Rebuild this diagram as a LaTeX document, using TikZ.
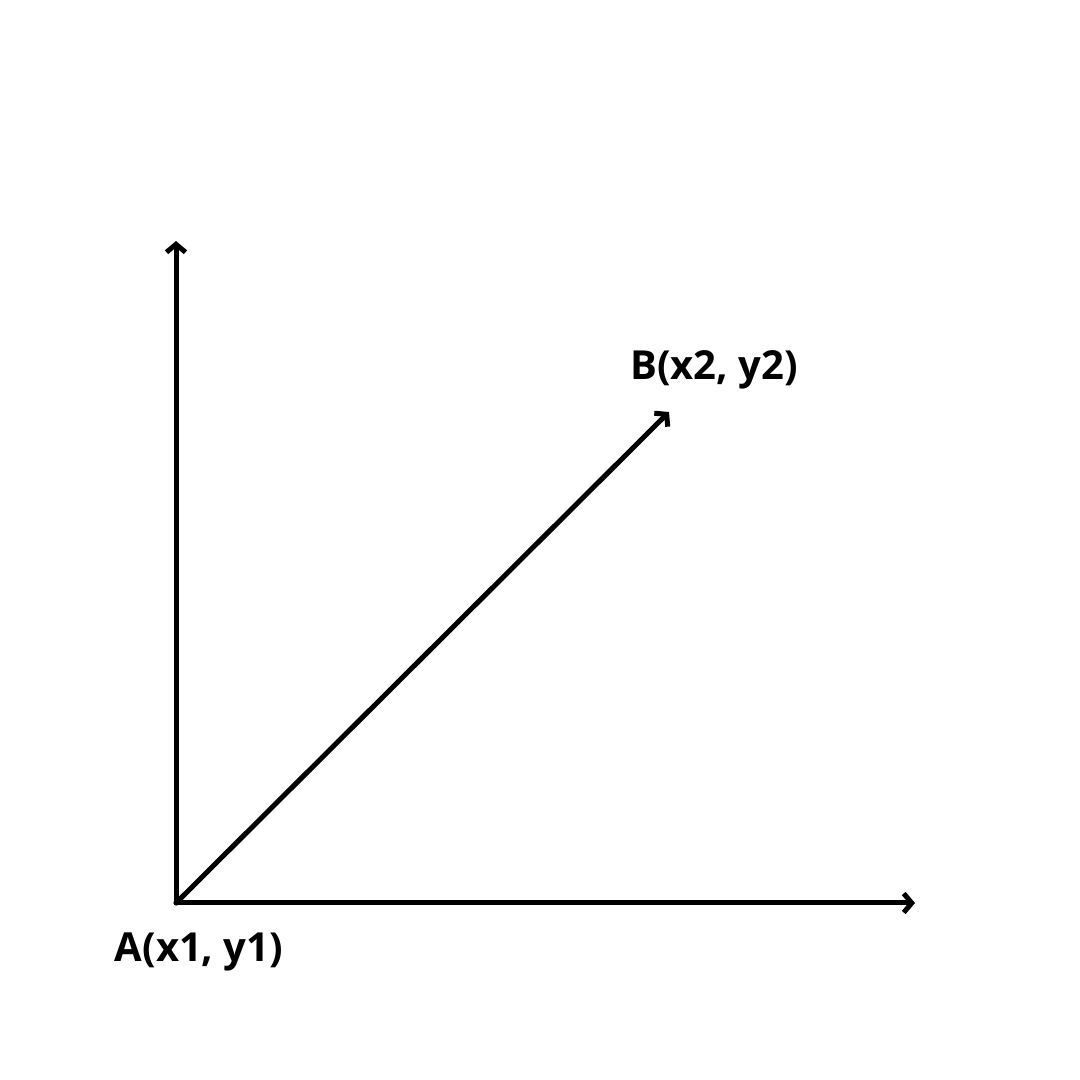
\documentclass[tikz,border=0pt]{standalone}
\usepackage{fontspec}
\setmainfont{Open Sans}
\usetikzlibrary{arrows.meta}
\begin{document}
\begin{tikzpicture}[x=1pt,y=1pt,
  vec/.style={line width=5pt, line cap=round, line join=round,
    -{Straight Barb[length=8pt,width=19pt,line width=5pt]}},
  lbl/.style={font=\fontsize{40}{48}\selectfont\bfseries, inner sep=0pt, anchor=base}]
\useasboundingbox (0,0) rectangle (1080,1080);
\fill[white] (0,0) rectangle (1080,1080);
\coordinate (A) at (176,177);
\coordinate (Ytop) at (176,839);
\coordinate (Xend) at (915,177);
\coordinate (B) at (669,668);
\draw[vec] (A) -- (Ytop);
\draw[vec] (A) -- (Xend);
\draw[vec] (A) -- (B);
\node[lbl] (labB) at (714,700) {B(x2, y2)};
\node[lbl] (labA) at (199,118) {A(x1, y1)};
\end{tikzpicture}
\end{document}
